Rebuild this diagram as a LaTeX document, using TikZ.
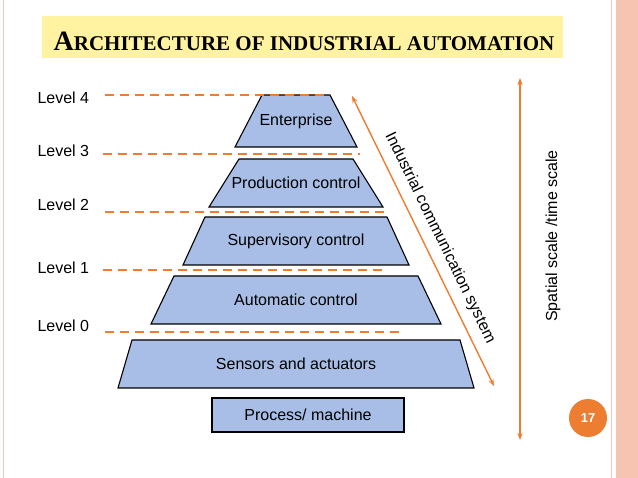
\documentclass[tikz,border=0pt]{standalone}
\usepackage{fontspec}
\setmainfont{Liberation Sans}
\newfontfamily\serifb{Liberation Serif}
\usetikzlibrary{arrows.meta}
\definecolor{tb}{RGB}{168,190,230}
\definecolor{orng}{RGB}{237,125,49}
\definecolor{ttl}{RGB}{255,242,160}
\definecolor{pinkb}{RGB}{248,196,178}
\begin{document}
\begin{tikzpicture}[x=1pt,y=-1pt,
  trap/.style={draw=black,line width=1.1pt,fill=tb},
  lvl/.style={orng,dashed,line width=1.2pt,dash pattern=on 9pt off 6pt},
  lab/.style={font=\fontsize{16}{18}\selectfont,anchor=west},
  txt/.style={font=\fontsize{16}{18}\selectfont},
  oarr/.style={orng,line width=1.4pt,{Stealth[length=7pt]}-{Stealth[length=7pt]}}]
\useasboundingbox (0,0) rectangle (638,478);
\fill[white] (0,0) rectangle (638,478);
% borders
\fill[pinkb] (616,0) rectangle (638,478);
\draw[pinkb,line width=1pt] (611,0) -- (611,478);
\draw[pinkb,line width=1pt] (3,0) -- (3,478);
% title
\fill[ttl] (42,16) rectangle (563,58);
\node[font=\serifb\bfseries\fontsize{21}{24}\selectfont] (title) at (304,41) {{\fontsize{28}{30}\selectfont A}RCHITECTURE OF INDUSTRIAL AUTOMATION};
% trapezoids
\def\trap#1#2#3#4#5#6{\draw[trap] (296-#2,#1) -- (296+#2,#1) -- (296+#4,#3) -- (296-#4,#3) -- cycle;
  \node[txt] (#5) at (296,{(#1+#3)/2}) {#6};}
\trap{95}{34}{147}{61}{ent}{Enterprise}
\trap{159}{57}{207}{87}{prod}{Production control}
\trap{217}{91}{265}{113}{sup}{Supervisory control}
\trap{276}{122}{324}{145}{aut}{Automatic control}
\trap{340}{164}{388}{178}{sen}{Sensors and actuators}
\draw[trap] (212,398) rectangle (404,432);
\node[txt] (proc) at (308,415) {Process/ machine};
% levels
\node[lab] (l4) at (34,98) {Level 4};
\node[lab] (l3) at (34,151) {Level 3};
\node[lab] (l2) at (34,205) {Level 2};
\node[lab] (l1) at (34,268) {Level 1};
\node[lab] (l0) at (34,326) {Level 0};
\draw[lvl] (105,95) -- (330,95);
\draw[lvl] (103,154) -- (360,154);
\draw[lvl] (105,212) -- (385,212);
\draw[lvl] (103,270) -- (383,270);
\draw[lvl] (105,332) -- (404,332);
% arrows
\coordinate (a1) at (352,96);
\coordinate (a2) at (494,386);
\draw[oarr] (a1) -- (a2);
\node[txt,rotate=-63.9] (ics) at (440,238) {Industrial communication system};
\coordinate (v1) at (520,78);
\coordinate (v2) at (520,440);
\draw[oarr] (v1) -- (v2);
\node[txt,rotate=90] (ss) at (553,236) {Spatial scale /time scale};
% badge
\node[circle,fill=orng,minimum size=38pt,inner sep=0pt,text=white,font=\bfseries\fontsize{13}{15}\selectfont] (badge) at (588,418) {17};
\end{tikzpicture}
\end{document}
